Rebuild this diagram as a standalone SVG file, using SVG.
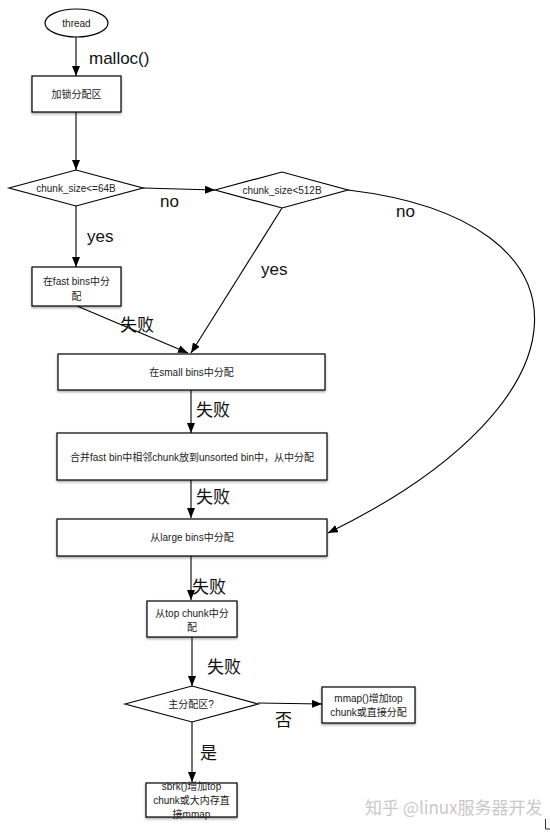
<svg xmlns="http://www.w3.org/2000/svg" width="550" height="834" viewBox="0 0 550 834">
<defs>
<marker id="arr" viewBox="0 0 10 8" refX="10" refY="4" markerWidth="10" markerHeight="8" markerUnits="userSpaceOnUse" orient="auto">
<path d="M0,0 L10,4 L0,8 Z" fill="#000"/>
</marker>
<filter id="sh" x="-5%" y="-10%" width="110%" height="130%">
<feDropShadow dx="0" dy="1.5" stdDeviation="1" flood-color="#000" flood-opacity="0.35"/>
</filter>
</defs>
<style>
.n{fill:#fff;stroke:#000;stroke-width:1.2}
.b{filter:url(#sh)}
.t{font-family:"Liberation Sans","Noto Sans CJK SC",sans-serif;font-size:10px;fill:#222;text-anchor:middle}
.l{font-family:"Liberation Sans","Noto Sans CJK SC",sans-serif;font-size:17px;fill:#111}
.c{fill:none;stroke:#000;stroke-width:1.1;marker-end:url(#arr)}
.cn{fill:none;stroke:#000;stroke-width:1.1}
</style>
<rect width="550" height="834" fill="#fff"/>

<g id="connectors">
<path class="c" d="M76,37 L76,76"/>
<path class="c" d="M76,112 L76,170"/>
<path class="c" d="M143,188 L215,190"/>
<path class="c" d="M76,206 L76,267"/>
<path class="c" d="M282,208 L191,353"/>
<path class="c" d="M77,306 L188,353"/>
<path class="c" d="M348,190 C600,220 600,400 328,533"/>
<path class="c" d="M191,390 L191,433"/>
<path class="c" d="M191,480 L191,518"/>
<path class="c" d="M191,556 L191,600"/>
<path class="c" d="M192,637 L192,686"/>
<path class="c" d="M258,703 L322,704"/>
<path class="c" d="M192,722 L192,782"/>
</g>

<g id="labels">
<text class="l" x="89" y="64" font-size="18">malloc()</text>
<text class="l" x="160" y="207">no</text>
<text class="l" x="87" y="242">yes</text>
<text class="l" x="261" y="275">yes</text>
<text class="l" x="396" y="217">no</text>
<text class="l" x="120" y="331">失败</text>
<text class="l" x="196" y="416">失败</text>
<text class="l" x="196" y="503">失败</text>
<text class="l" x="192" y="593">失败</text>
<text class="l" x="207" y="673">失败</text>
<text class="l" x="275" y="726">否</text>
<text class="l" x="200" y="759">是</text>
</g>

<g id="thread">
<ellipse class="n" cx="76.5" cy="23" rx="31.5" ry="14"/>
<text class="t" x="76.5" y="27">thread</text>
</g>

<g id="lock">
<rect class="n b" x="32" y="76" width="89" height="36"/>
<text class="t" x="76.5" y="98">加锁分配区</text>
</g>

<g id="d1">
<polygon class="n" points="9,188 76,170 143,188 76,206"/>
<text class="t" x="76" y="192">chunk_size&lt;=64B</text>
</g>

<g id="d2">
<polygon class="n" points="215,190 282,172 348,190 282,208"/>
<text class="t" x="282" y="194">chunk_size&lt;512B</text>
</g>

<g id="fast">
<rect class="n b" x="32" y="267" width="89" height="39"/>
<text class="t" x="76.5" y="285">在fast bins中分</text>
<text class="t" x="76.5" y="300">配</text>
</g>

<g id="small">
<rect class="n b" x="58" y="354" width="267" height="36"/>
<text class="t" x="191.5" y="376">在small bins中分配</text>
</g>

<g id="merge">
<rect class="n b" x="57" y="433" width="270" height="47"/>
<text class="t" x="192" y="461">合并fast bin中相邻chunk放到unsorted bin中，从中分配</text>
</g>

<g id="large">
<rect class="n b" x="57" y="519" width="270" height="37"/>
<text class="t" x="192" y="541">从large bins中分配</text>
</g>

<g id="top">
<rect class="n b" x="147" y="601" width="90" height="36"/>
<text class="t" x="192" y="617">从top chunk中分</text>
<text class="t" x="192" y="631">配</text>
</g>

<g id="d3">
<polygon class="n" points="125,704 192,686 258,704 192,722"/>
<text class="t" x="191" y="708">主分配区?</text>
</g>

<g id="mmap">
<rect class="n b" x="322" y="687" width="93" height="36"/>
<text class="t" x="368.5" y="702">mmap()增加top</text>
<text class="t" x="368.5" y="716">chunk或直接分配</text>
</g>

<g id="sbrk">
<rect class="n b" x="146" y="783" width="91" height="34"/>
<text class="t" x="191.5" y="790">sbrk()增加top</text>
<text class="t" x="191.5" y="804">chunk或大内存直</text>
<text class="t" x="191.5" y="818">接mmap</text>
</g>

<text x="365" y="814" font-family="Noto Sans CJK SC,sans-serif" font-size="17" fill="#c8c8c8">知乎 @linux服务器开发</text>
<path d="M545.5,819 L545.5,829 L550,829" fill="none" stroke="#333" stroke-width="1"/>
</svg>
